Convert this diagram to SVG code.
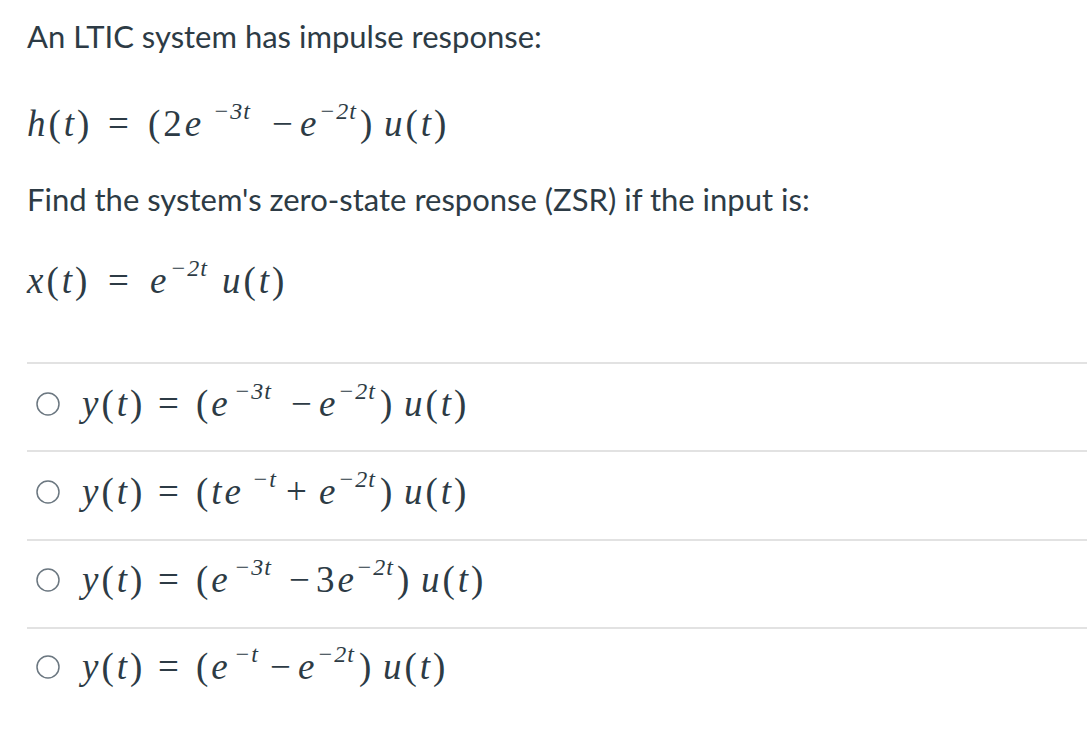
<svg xmlns="http://www.w3.org/2000/svg" width="1092" height="738" viewBox="0 0 1092 738">
<style>
.t{font-family:Lato,"Open Sans",sans-serif;font-size:31px;fill:#2d3b45}
.m{font-family:"Liberation Serif","DejaVu Serif",serif;font-size:37px;fill:#2d3b45;letter-spacing:3px}
.i{font-style:italic}
.s{font-family:"Liberation Serif","DejaVu Serif",serif;font-size:24px;fill:#2d3b45;font-style:italic;letter-spacing:1px}
.ln{stroke:#d9d9d9;stroke-width:1.5}
.r{fill:#fff;stroke:#6b7780;stroke-width:1.5}
</style>
<rect width="1092" height="738" fill="#fff"/>
<text class="t" x="27" y="48">An LTIC system has impulse response:</text>
<g>
<text class="m" x="27" y="136"><tspan class="i">h</tspan>(<tspan class="i">t</tspan>)</text>
<text class="m" x="108" y="136">=</text>
<text class="m" x="148" y="136">(2<tspan class="i">e</tspan></text>
<text class="s" x="213" y="119">−3t</text>
<text class="m" x="272" y="136">−</text>
<text class="m i" x="300" y="136">e</text>
<text class="s" x="319" y="119">−2t</text>
<text class="m" x="360" y="136">)</text>
<text class="m" x="384" y="136"><tspan class="i">u</tspan>(<tspan class="i">t</tspan>)</text>
</g>
<text class="t" x="27" y="211">Find the system's zero-state response (ZSR) if the input is:</text>
<g>
<text class="m" x="27" y="293"><tspan class="i">x</tspan>(<tspan class="i">t</tspan>)</text>
<text class="m" x="108" y="293">=</text>
<text class="m i" x="150" y="293">e</text>
<text class="s" x="170" y="276">−2t</text>
<text class="m" x="222" y="293"><tspan class="i">u</tspan>(<tspan class="i">t</tspan>)</text>
</g>
<g>
<line class="ln" x1="27" y1="363" x2="1087" y2="363"/>
<line class="ln" x1="27" y1="451" x2="1087" y2="451"/>
<line class="ln" x1="27" y1="540" x2="1087" y2="540"/>
<line class="ln" x1="27" y1="628" x2="1087" y2="628"/>
</g>
<g id="opt1">
<circle class="r" cx="48" cy="404" r="11"/>
<text class="m" x="82" y="416"><tspan class="i">y</tspan>(<tspan class="i">t</tspan>)</text>
<text class="m" x="158" y="416">=</text>
<text class="m" x="196" y="416">(<tspan class="i">e</tspan></text>
<text class="s" x="234" y="399">−3t</text>
<text class="m" x="291" y="416">−</text>
<text class="m i" x="319" y="416">e</text>
<text class="s" x="338" y="399">−2t</text>
<text class="m" x="380" y="416">)</text>
<text class="m" x="404" y="416"><tspan class="i">u</tspan>(<tspan class="i">t</tspan>)</text>
</g>
<g id="opt2">
<circle class="r" cx="48" cy="492" r="11"/>
<text class="m" x="82" y="504"><tspan class="i">y</tspan>(<tspan class="i">t</tspan>)</text>
<text class="m" x="158" y="504">=</text>
<text class="m" x="196" y="504">(<tspan class="i">te</tspan></text>
<text class="s" x="252" y="487">−t</text>
<text class="m" x="286" y="504">+</text>
<text class="m i" x="319" y="504">e</text>
<text class="s" x="338" y="487">−2t</text>
<text class="m" x="380" y="504">)</text>
<text class="m" x="404" y="504"><tspan class="i">u</tspan>(<tspan class="i">t</tspan>)</text>
</g>
<g id="opt3">
<circle class="r" cx="48" cy="580" r="11"/>
<text class="m" x="82" y="592"><tspan class="i">y</tspan>(<tspan class="i">t</tspan>)</text>
<text class="m" x="158" y="592">=</text>
<text class="m" x="196" y="592">(<tspan class="i">e</tspan></text>
<text class="s" x="234" y="575">−3t</text>
<text class="m" x="289" y="592">−</text>
<text class="m" x="316" y="592">3<tspan class="i">e</tspan></text>
<text class="s" x="356" y="575">−2t</text>
<text class="m" x="397" y="592">)</text>
<text class="m" x="421" y="592"><tspan class="i">u</tspan>(<tspan class="i">t</tspan>)</text>
</g>
<g id="opt4">
<circle class="r" cx="48" cy="667" r="11"/>
<text class="m" x="82" y="679"><tspan class="i">y</tspan>(<tspan class="i">t</tspan>)</text>
<text class="m" x="158" y="679">=</text>
<text class="m" x="196" y="679">(<tspan class="i">e</tspan></text>
<text class="s" x="234" y="662">−t</text>
<text class="m" x="270" y="679">−</text>
<text class="m i" x="298" y="679">e</text>
<text class="s" x="317" y="662">−2t</text>
<text class="m" x="359" y="679">)</text>
<text class="m" x="383" y="679"><tspan class="i">u</tspan>(<tspan class="i">t</tspan>)</text>
</g>
</svg>
